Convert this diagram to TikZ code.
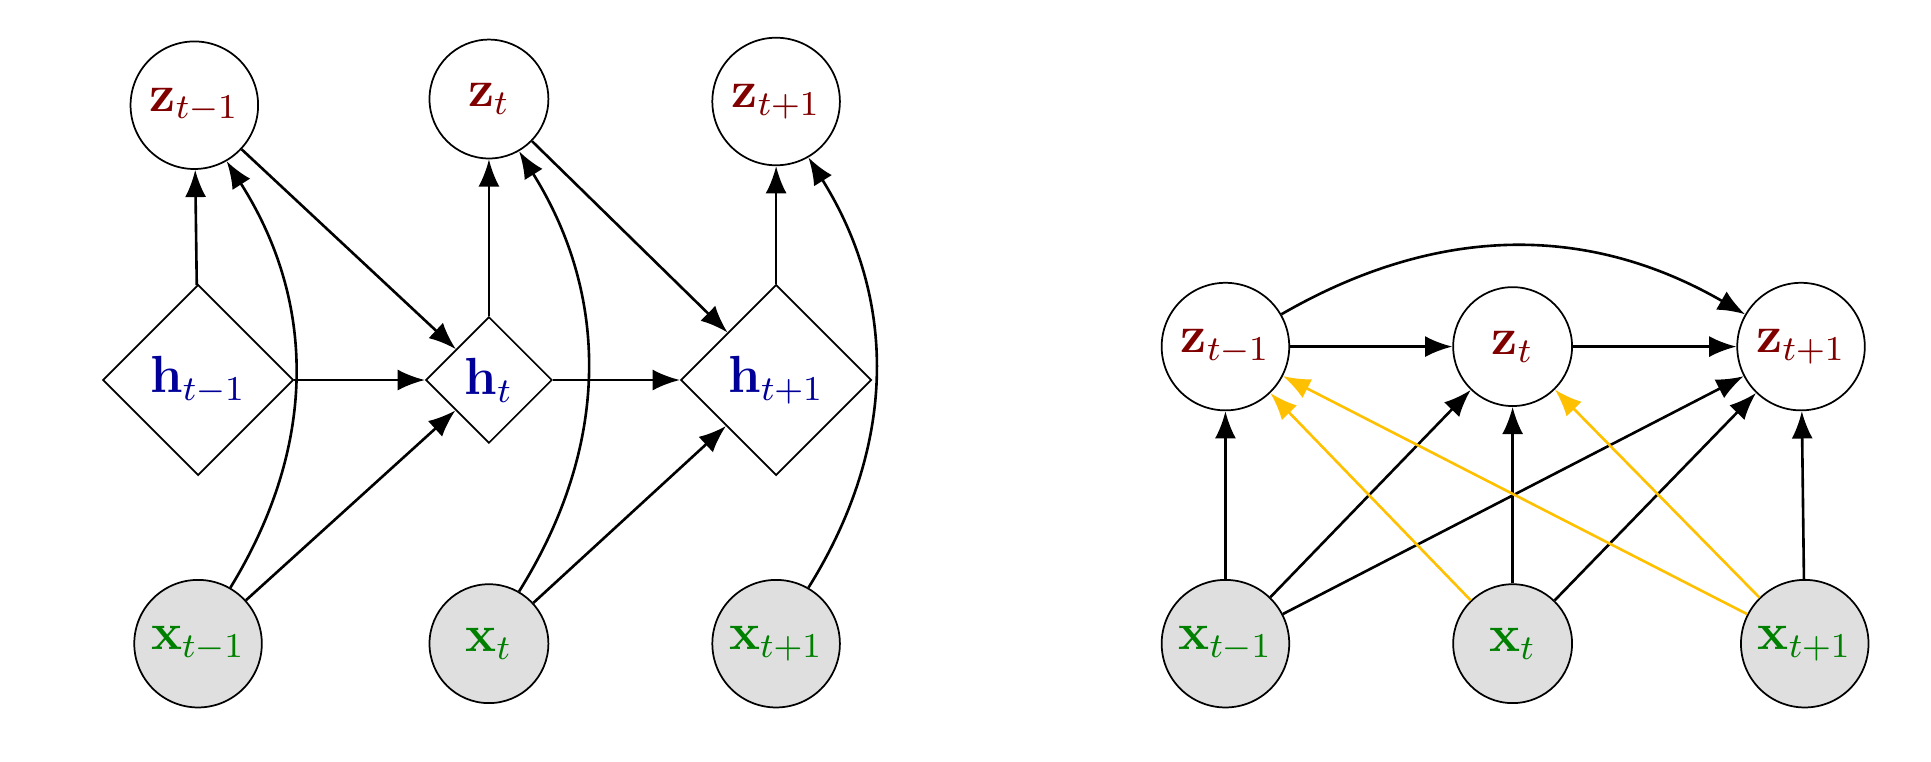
\documentclass[tikz,border=0pt]{standalone}
\usetikzlibrary{arrows.meta,shapes.geometric}
\begin{document}
\begin{tikzpicture}[x=0.01cm,y=0.01cm,
 zn/.style={circle,draw,minimum size=1.03cm,inner sep=0,font=\large,text=red!50!black},
 zsn/.style={zn,minimum size=0.96cm},
 xn/.style={circle,draw,fill=gray!25,minimum size=1.03cm,inner sep=0,font=\large,text=green!50!black},
 xsn/.style={xn,minimum size=0.96cm},
 hn/.style={diamond,draw,minimum size=1.54cm,inner sep=0,font=\large,text=blue!60!black},
 hsn/.style={hn,minimum size=1.02cm},
 arr/.style={-{Latex[length=2.2mm,width=1.7mm]},semithick},
 oarr/.style={arr,color={rgb,255:red,255;green,192;blue,0}}]
\useasboundingbox (0,0) rectangle (1560,-615);
% left
\node[zn] (z1) at (157,-85) {$\mathbf{z}_{t-1}$};
\node[zsn] (z2) at (395,-80) {$\mathbf{z}_{t}$};
\node[zn] (z3) at (627,-82) {$\mathbf{z}_{t+1}$};
\node[hn] (h1) at (160,-307) {$\mathbf{h}_{t-1}$};
\node[hsn] (h2) at (395,-307) {$\mathbf{h}_{t}$};
\node[hn] (h3) at (627,-307) {$\mathbf{h}_{t+1}$};
\node[xn] (x1) at (160,-520) {$\mathbf{x}_{t-1}$};
\node[xsn] (x2) at (395,-520) {$\mathbf{x}_{t}$};
\node[xn] (x3) at (627,-520) {$\mathbf{x}_{t+1}$};
\foreach \i in {1,2,3}{
 \draw[arr] (h\i) -- (z\i);
 \draw[arr] (x\i.60) to[bend right=32] (z\i.-60);
}
\draw[arr] (h1) -- (h2); \draw[arr] (h2) -- (h3);
\draw[arr] (z1) -- (h2); \draw[arr] (z2) -- (h3);
\draw[arr] (x1) -- (h2); \draw[arr] (x2) -- (h3);
% right
\node[zn] (r1) at (990,-280) {$\mathbf{z}_{t-1}$};
\node[zsn] (r2) at (1222,-280) {$\mathbf{z}_{t}$};
\node[zn] (r3) at (1455,-280) {$\mathbf{z}_{t+1}$};
\node[xn] (s1) at (990,-520) {$\mathbf{x}_{t-1}$};
\node[xsn] (s2) at (1222,-520) {$\mathbf{x}_{t}$};
\node[xn] (s3) at (1458,-520) {$\mathbf{x}_{t+1}$};
\foreach \i in {1,2,3}{\draw[arr] (s\i) -- (r\i);}
\draw[arr] (r1) -- (r2); \draw[arr] (r2) -- (r3);
\draw[arr] (r1) to[bend left=30] (r3);
\draw[arr] (s1) -- (r2); \draw[arr] (s1) -- (r3); \draw[arr] (s2) -- (r3);
\draw[oarr] (s2) -- (r1); \draw[oarr] (s3) -- (r1); \draw[oarr] (s3) -- (r2);
\end{tikzpicture}
\end{document}
